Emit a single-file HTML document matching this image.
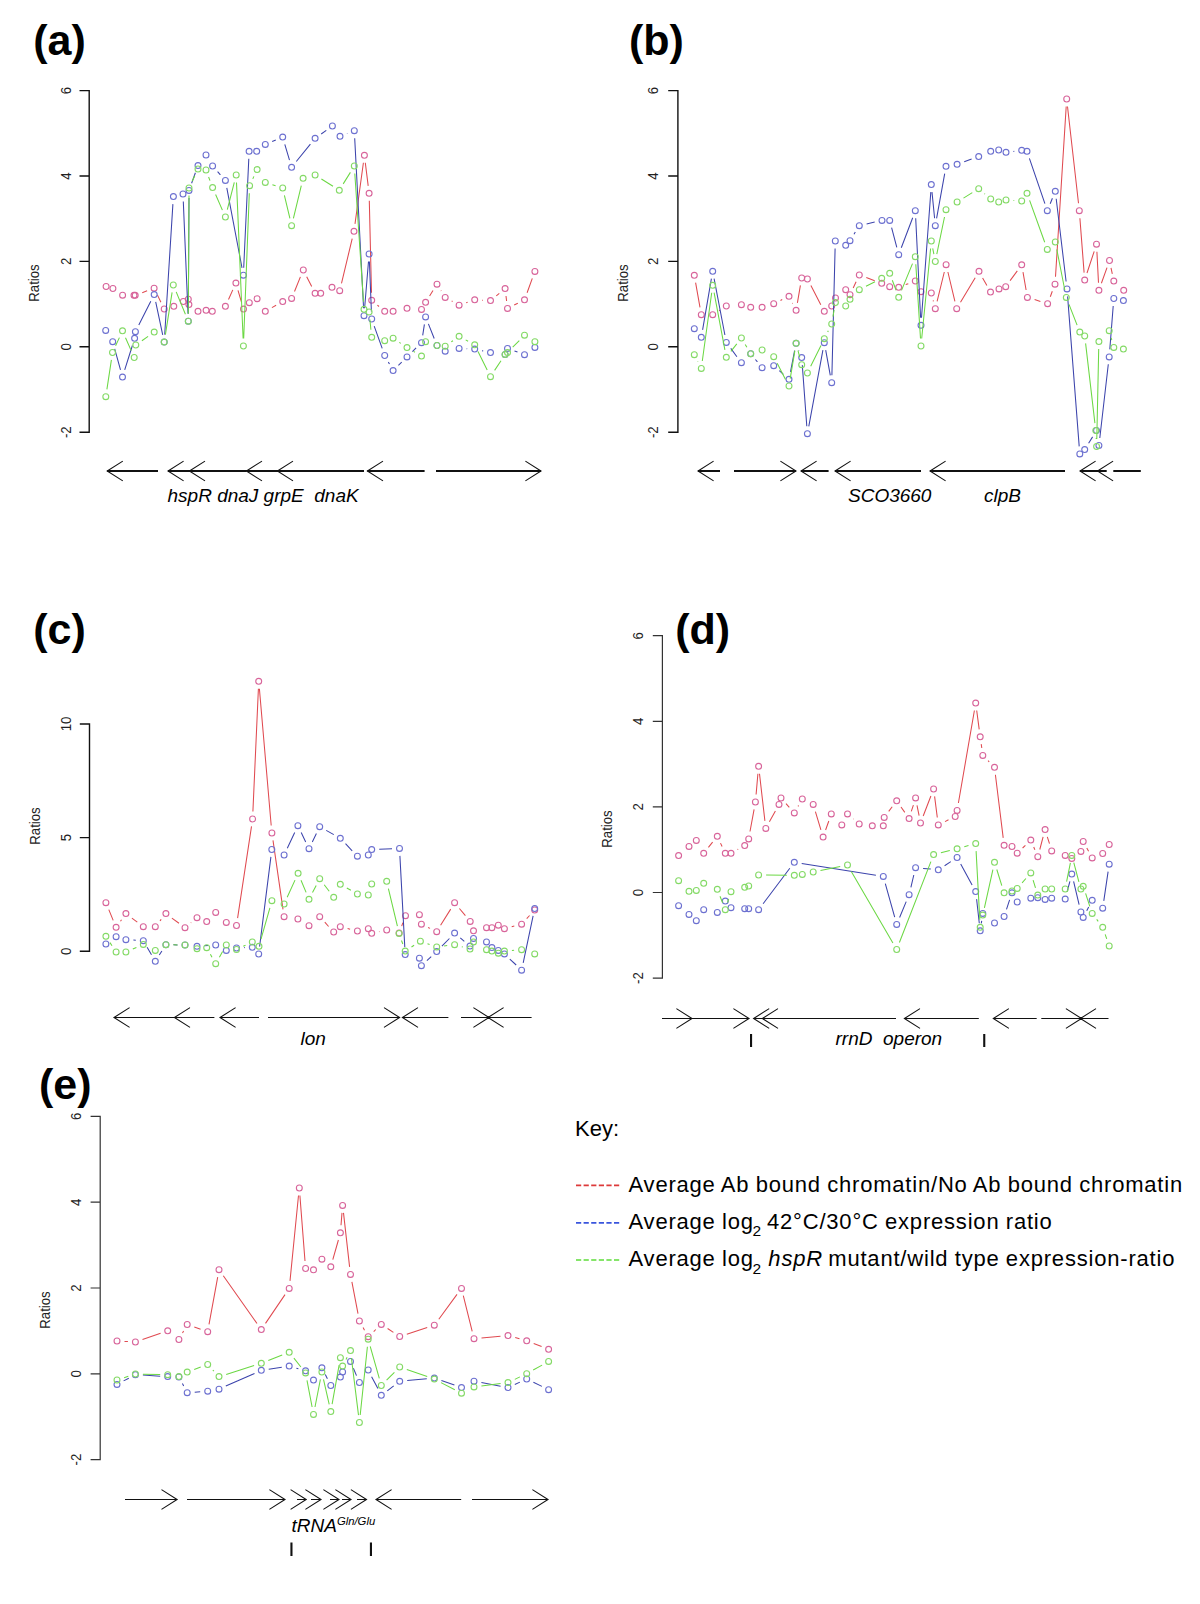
<!DOCTYPE html>
<html><head><meta charset="utf-8"><title>Figure</title>
<style>
html,body{margin:0;padding:0;background:#fff;}
svg{display:block;}
text{font-family:"Liberation Sans",Arial,Helvetica,sans-serif;fill:#111;}
.ttl{font-weight:bold;fill:#000;}
.tl{fill:#222;}
.gl{font-style:italic;fill:#000;}
.key{font-size:22px;fill:#000;letter-spacing:0.8px;word-spacing:-0.55px;}
</style></head>
<body>
<svg width="1200" height="1604" viewBox="0 0 1200 1604">
<rect width="1200" height="1604" fill="#fff"/>
<text x="33.2" y="55.4" class="ttl" style="font-size:43px">(a)</text>
<path d="M89.2 90.59999999999997L89.2 432.20000000000005M80.2 90.59999999999997L89.2 90.59999999999997M80.2 176.0L89.2 176.0M80.2 261.4L89.2 261.4M80.2 346.8L89.2 346.8M80.2 432.20000000000005L89.2 432.20000000000005" stroke="#111" stroke-width="1.4" fill="none" stroke-linecap="square"/>
<text transform="translate(70.6,90.6) scale(1.17,1) rotate(-90)" text-anchor="middle" class="tl" style="font-size:13.2px">6</text>
<text transform="translate(70.6,176.0) scale(1.17,1) rotate(-90)" text-anchor="middle" class="tl" style="font-size:13.2px">4</text>
<text transform="translate(70.6,261.4) scale(1.17,1) rotate(-90)" text-anchor="middle" class="tl" style="font-size:13.2px">2</text>
<text transform="translate(70.6,346.8) scale(1.17,1) rotate(-90)" text-anchor="middle" class="tl" style="font-size:13.2px">0</text>
<text transform="translate(70.6,432.2) scale(1.17,1) rotate(-90)" text-anchor="middle" class="tl" style="font-size:13.2px">-2</text>
<text transform="translate(39.4,283.0) scale(1.06,1) rotate(-90)" text-anchor="middle" class="tl" style="font-size:13.2px">Ratios</text>
<path d="M142.2 292.7L147.1 290.8M157.4 294.9L160.9 302.3M228.5 299.5L232.8 289.9M238.0 290.3L241.4 301.9M271.9 307.6L276.1 305.3M294.5 291.5L300.4 276.9M306.7 276.7L311.7 286.6M341.5 283.4L352.2 238.6M355.0 223.9L363.4 162.7M365.3 162.7L368.2 185.9M369.3 200.8L371.5 292.8M377.4 305.1L379.0 306.5M429.6 296.0L433.0 290.5M441.0 290.6L441.2 291.0M451.7 301.1L452.6 301.5M466.2 302.7L467.6 302.3M482.2 300.2L483.0 300.2M496.3 295.8L499.3 293.4M506.0 296.0L506.6 301.0M514.2 305.0L517.8 303.2M527.1 292.8L532.3 278.4" stroke="#e04a50" stroke-width="1.05" fill="none"/>
<g fill="none" stroke="#d8649a" stroke-width="1.1"><circle cx="106.1" cy="286.5" r="2.95"/><circle cx="112.9" cy="288.5" r="2.95"/><circle cx="122.6" cy="295.2" r="2.95"/><circle cx="134.0" cy="295.3" r="2.95"/><circle cx="135.2" cy="295.3" r="2.95"/><circle cx="154.1" cy="288.2" r="2.95"/><circle cx="164.2" cy="309.0" r="2.95"/><circle cx="173.8" cy="306.3" r="2.95"/><circle cx="183.3" cy="301.5" r="2.95"/><circle cx="188.3" cy="299.2" r="2.95"/><circle cx="188.9" cy="304.6" r="2.95"/><circle cx="198.0" cy="311.3" r="2.95"/><circle cx="206.1" cy="310.3" r="2.95"/><circle cx="212.3" cy="311.3" r="2.95"/><circle cx="225.4" cy="306.3" r="2.95"/><circle cx="235.9" cy="283.1" r="2.95"/><circle cx="243.5" cy="309.1" r="2.95"/><circle cx="249.3" cy="302.7" r="2.95"/><circle cx="257.1" cy="298.7" r="2.95"/><circle cx="265.3" cy="311.3" r="2.95"/><circle cx="282.7" cy="301.6" r="2.95"/><circle cx="291.6" cy="298.4" r="2.95"/><circle cx="303.3" cy="270.0" r="2.95"/><circle cx="315.1" cy="293.3" r="2.95"/><circle cx="320.7" cy="293.3" r="2.95"/><circle cx="332.0" cy="287.3" r="2.95"/><circle cx="339.7" cy="290.7" r="2.95"/><circle cx="354.0" cy="231.3" r="2.95"/><circle cx="364.4" cy="155.3" r="2.95"/><circle cx="369.1" cy="193.3" r="2.95"/><circle cx="371.7" cy="300.3" r="2.95"/><circle cx="384.7" cy="311.3" r="2.95"/><circle cx="393.1" cy="311.3" r="2.95"/><circle cx="407.0" cy="308.3" r="2.95"/><circle cx="421.5" cy="309.4" r="2.95"/><circle cx="425.6" cy="302.3" r="2.95"/><circle cx="437.0" cy="284.2" r="2.95"/><circle cx="445.2" cy="297.4" r="2.95"/><circle cx="459.1" cy="305.2" r="2.95"/><circle cx="474.7" cy="299.8" r="2.95"/><circle cx="490.5" cy="300.6" r="2.95"/><circle cx="505.1" cy="288.6" r="2.95"/><circle cx="507.5" cy="308.4" r="2.95"/><circle cx="524.5" cy="299.8" r="2.95"/><circle cx="534.9" cy="271.4" r="2.95"/></g>
<path d="M114.7 348.9L120.5 369.9M124.7 369.9L132.4 345.5M138.8 325.0L150.8 301.3M155.7 301.9L162.7 334.8M164.7 334.6L172.9 204.1M183.3 201.5L188.0 313.7M188.3 313.7L189.0 197.9M191.6 183.3L195.4 172.7M217.6 171.6L220.4 174.8M226.8 187.8L242.0 267.8M243.7 267.7L248.8 158.8M272.2 141.5L275.8 140.0M284.8 144.3L289.5 160.1M296.3 161.5L310.4 144.1M321.2 134.0L326.3 130.3M347.0 133.6L347.3 133.4M354.7 138.2L363.6 308.2M364.6 308.2L368.5 261.5M369.4 261.5L371.4 311.5M374.2 326.1L382.2 348.4M388.3 362.1L389.5 364.0M398.4 365.3L401.7 362.2M412.4 351.7L416.1 347.9M422.7 335.3L424.4 324.3M428.4 323.9L434.2 338.5M466.6 348.7L467.2 348.8M482.0 350.7L483.2 351.0M514.5 351.0L517.5 352.1" stroke="#3c44ac" stroke-width="1.05" fill="none"/>
<g fill="none" stroke="#6c70d0" stroke-width="1.1"><circle cx="105.7" cy="330.4" r="2.95"/><circle cx="112.7" cy="341.7" r="2.95"/><circle cx="122.5" cy="377.1" r="2.95"/><circle cx="134.6" cy="338.3" r="2.95"/><circle cx="135.4" cy="331.7" r="2.95"/><circle cx="154.2" cy="294.6" r="2.95"/><circle cx="164.2" cy="342.1" r="2.95"/><circle cx="173.4" cy="196.6" r="2.95"/><circle cx="183.0" cy="194.0" r="2.95"/><circle cx="188.3" cy="321.2" r="2.95"/><circle cx="189.0" cy="190.4" r="2.95"/><circle cx="198.0" cy="165.6" r="2.95"/><circle cx="206.0" cy="155.0" r="2.95"/><circle cx="212.6" cy="166.0" r="2.95"/><circle cx="225.4" cy="180.4" r="2.95"/><circle cx="243.4" cy="275.2" r="2.95"/><circle cx="249.1" cy="151.3" r="2.95"/><circle cx="256.7" cy="151.3" r="2.95"/><circle cx="265.3" cy="144.4" r="2.95"/><circle cx="282.7" cy="137.1" r="2.95"/><circle cx="291.6" cy="167.3" r="2.95"/><circle cx="315.1" cy="138.3" r="2.95"/><circle cx="332.4" cy="126.0" r="2.95"/><circle cx="340.0" cy="136.3" r="2.95"/><circle cx="354.3" cy="130.7" r="2.95"/><circle cx="364.0" cy="315.7" r="2.95"/><circle cx="369.1" cy="254.0" r="2.95"/><circle cx="371.7" cy="319.0" r="2.95"/><circle cx="384.7" cy="355.5" r="2.95"/><circle cx="393.1" cy="370.6" r="2.95"/><circle cx="407.0" cy="356.9" r="2.95"/><circle cx="421.5" cy="342.7" r="2.95"/><circle cx="425.6" cy="316.9" r="2.95"/><circle cx="437.0" cy="345.5" r="2.95"/><circle cx="445.2" cy="351.2" r="2.95"/><circle cx="459.1" cy="348.4" r="2.95"/><circle cx="474.7" cy="349.1" r="2.95"/><circle cx="490.5" cy="352.6" r="2.95"/><circle cx="505.1" cy="354.4" r="2.95"/><circle cx="507.5" cy="348.4" r="2.95"/><circle cx="524.5" cy="354.7" r="2.95"/><circle cx="534.9" cy="347.4" r="2.95"/></g>
<path d="M106.9 389.3L111.4 359.9M115.6 345.7L119.4 337.6M125.5 337.7L131.2 350.6M141.9 340.7L148.1 336.4M165.4 334.7L172.1 292.4M176.2 291.9L185.4 314.3M188.3 313.7L189.0 195.5M192.2 181.2L194.8 175.8M208.6 177.0L210.0 180.6M215.6 194.5L222.4 210.1M227.3 209.7L234.3 182.3M236.5 182.5L243.1 338.5M243.7 338.5L249.3 193.2M252.8 178.9L253.9 176.4M272.4 184.7L275.6 185.7M284.4 195.3L289.9 218.4M293.4 218.4L301.3 185.6M321.4 179.0L333.0 186.3M343.2 183.9L350.4 172.4M354.8 173.5L363.5 301.8M369.9 319.5L370.9 329.8M399.3 342.4L400.8 343.4M413.5 351.4L415.0 352.3M451.3 341.8L453.0 340.7M465.7 339.9L468.1 341.2M478.0 351.5L487.2 370.0M494.6 370.4L501.0 360.7M512.7 347.2L519.3 340.6" stroke="#6cd844" stroke-width="1.05" fill="none"/>
<g fill="none" stroke="#84da66" stroke-width="1.1"><circle cx="105.8" cy="396.7" r="2.95"/><circle cx="112.5" cy="352.5" r="2.95"/><circle cx="122.5" cy="330.8" r="2.95"/><circle cx="134.2" cy="357.5" r="2.95"/><circle cx="135.8" cy="345.0" r="2.95"/><circle cx="154.2" cy="332.1" r="2.95"/><circle cx="164.2" cy="342.1" r="2.95"/><circle cx="173.3" cy="285.0" r="2.95"/><circle cx="188.3" cy="321.2" r="2.95"/><circle cx="189.0" cy="188.0" r="2.95"/><circle cx="198.0" cy="169.0" r="2.95"/><circle cx="206.0" cy="170.0" r="2.95"/><circle cx="212.6" cy="187.6" r="2.95"/><circle cx="225.4" cy="217.0" r="2.95"/><circle cx="236.2" cy="175.0" r="2.95"/><circle cx="243.4" cy="346.0" r="2.95"/><circle cx="249.6" cy="185.7" r="2.95"/><circle cx="257.1" cy="169.6" r="2.95"/><circle cx="265.3" cy="182.4" r="2.95"/><circle cx="282.7" cy="188.0" r="2.95"/><circle cx="291.6" cy="225.7" r="2.95"/><circle cx="303.1" cy="178.3" r="2.95"/><circle cx="315.1" cy="175.0" r="2.95"/><circle cx="339.3" cy="190.3" r="2.95"/><circle cx="354.3" cy="166.0" r="2.95"/><circle cx="364.0" cy="309.3" r="2.95"/><circle cx="369.1" cy="312.0" r="2.95"/><circle cx="371.7" cy="337.3" r="2.95"/><circle cx="384.7" cy="340.7" r="2.95"/><circle cx="393.1" cy="338.2" r="2.95"/><circle cx="407.0" cy="347.6" r="2.95"/><circle cx="421.5" cy="356.1" r="2.95"/><circle cx="425.6" cy="341.7" r="2.95"/><circle cx="437.0" cy="345.5" r="2.95"/><circle cx="445.2" cy="346.2" r="2.95"/><circle cx="459.1" cy="336.3" r="2.95"/><circle cx="474.7" cy="344.8" r="2.95"/><circle cx="490.5" cy="376.7" r="2.95"/><circle cx="505.1" cy="354.4" r="2.95"/><circle cx="507.5" cy="352.6" r="2.95"/><circle cx="524.5" cy="335.2" r="2.95"/><circle cx="534.9" cy="341.7" r="2.95"/></g>
<path d="M107.2 471L158 471M168 471L189.4 471M189.4 471L246.4 471M246.4 471L277.4 471M277.4 471L364 471M367.4 471L424.6 471M436 471L541 471" stroke="#111" stroke-width="1.9" fill="none"/>
<path d="M122.8 461.1L107.2 471L122.8 480.9M183.6 461.1L168 471L183.6 480.9M205.0 461.1L189.4 471L205.0 480.9M262.0 461.1L246.4 471L262.0 480.9M293.0 461.1L277.4 471L293.0 480.9M383.0 461.1L367.4 471L383.0 480.9M525.4 461.1L541 471L525.4 480.9" stroke="#111" stroke-width="1.1" fill="none" stroke-linejoin="miter"/>
<text x="167.5" y="502.4" class="gl" style="font-size:19px">hspR dnaJ grpE&#160; dnaK</text>
<text x="629" y="55.4" class="ttl" style="font-size:43px">(b)</text>
<path d="M677.9 90.59999999999997L677.9 432.20000000000005M668.9 90.59999999999997L677.9 90.59999999999997M668.9 176.0L677.9 176.0M668.9 261.4L677.9 261.4M668.9 346.8L677.9 346.8M668.9 432.20000000000005L677.9 432.20000000000005" stroke="#111" stroke-width="1.4" fill="none" stroke-linecap="square"/>
<text transform="translate(658.3,90.6) scale(1.17,1) rotate(-90)" text-anchor="middle" class="tl" style="font-size:13.2px">6</text>
<text transform="translate(658.3,176.0) scale(1.17,1) rotate(-90)" text-anchor="middle" class="tl" style="font-size:13.2px">4</text>
<text transform="translate(658.3,261.4) scale(1.17,1) rotate(-90)" text-anchor="middle" class="tl" style="font-size:13.2px">2</text>
<text transform="translate(658.3,346.8) scale(1.17,1) rotate(-90)" text-anchor="middle" class="tl" style="font-size:13.2px">0</text>
<text transform="translate(658.3,432.2) scale(1.17,1) rotate(-90)" text-anchor="middle" class="tl" style="font-size:13.2px">-2</text>
<text transform="translate(628.2,283.0) scale(1.06,1) rotate(-90)" text-anchor="middle" class="tl" style="font-size:13.2px">Ratios</text>
<path d="M695.6 282.7L700.0 307.3M719.0 310.7L720.0 310.0M780.5 300.4L782.2 299.6M792.4 303.0L792.7 303.6M797.4 302.9L800.4 285.4M810.9 285.6L820.8 304.7M853.2 287.9L856.1 281.8M866.3 277.6L874.7 280.7M905.7 284.6L908.3 283.7M933.2 300.3L933.4 301.4M937.1 301.4L944.3 272.0M947.9 272.0L954.9 301.4M960.5 302.3L975.2 277.7M982.6 277.9L986.9 285.5M1010.1 280.6L1017.3 270.9M1023.0 272.2L1026.1 290.0M1034.6 299.6L1040.4 301.5M1050.3 296.7L1052.3 291.2M1055.5 276.7L1066.2 106.5M1067.5 106.5L1078.5 203.2M1079.9 218.2L1084.1 272.6M1087.0 273.0L1094.2 251.3M1096.9 251.7L1098.5 282.8M1101.4 283.2L1107.0 267.6M1111.0 267.8L1112.3 273.8" stroke="#e04a50" stroke-width="1.05" fill="none"/>
<g fill="none" stroke="#d8649a" stroke-width="1.1"><circle cx="694.3" cy="275.3" r="2.95"/><circle cx="701.3" cy="314.7" r="2.95"/><circle cx="712.7" cy="314.7" r="2.95"/><circle cx="726.3" cy="306.0" r="2.95"/><circle cx="741.4" cy="304.7" r="2.95"/><circle cx="750.7" cy="307.3" r="2.95"/><circle cx="762.1" cy="307.3" r="2.95"/><circle cx="773.7" cy="303.7" r="2.95"/><circle cx="789.0" cy="296.3" r="2.95"/><circle cx="796.1" cy="310.3" r="2.95"/><circle cx="801.7" cy="278.0" r="2.95"/><circle cx="807.4" cy="279.0" r="2.95"/><circle cx="824.3" cy="311.3" r="2.95"/><circle cx="831.7" cy="306.0" r="2.95"/><circle cx="835.5" cy="298.0" r="2.95"/><circle cx="845.7" cy="289.7" r="2.95"/><circle cx="850.0" cy="294.7" r="2.95"/><circle cx="859.3" cy="275.0" r="2.95"/><circle cx="881.7" cy="283.3" r="2.95"/><circle cx="889.7" cy="286.7" r="2.95"/><circle cx="898.7" cy="287.3" r="2.95"/><circle cx="915.3" cy="281.0" r="2.95"/><circle cx="921.0" cy="291.7" r="2.95"/><circle cx="931.3" cy="293.0" r="2.95"/><circle cx="935.3" cy="308.7" r="2.95"/><circle cx="946.1" cy="264.7" r="2.95"/><circle cx="956.7" cy="308.7" r="2.95"/><circle cx="979.0" cy="271.3" r="2.95"/><circle cx="990.5" cy="292.1" r="2.95"/><circle cx="999.0" cy="288.9" r="2.95"/><circle cx="1005.7" cy="286.7" r="2.95"/><circle cx="1021.7" cy="264.8" r="2.95"/><circle cx="1027.4" cy="297.4" r="2.95"/><circle cx="1047.6" cy="303.7" r="2.95"/><circle cx="1055.0" cy="284.2" r="2.95"/><circle cx="1066.7" cy="99.0" r="2.95"/><circle cx="1079.3" cy="210.7" r="2.95"/><circle cx="1084.7" cy="280.1" r="2.95"/><circle cx="1096.5" cy="244.2" r="2.95"/><circle cx="1098.9" cy="290.3" r="2.95"/><circle cx="1109.5" cy="260.5" r="2.95"/><circle cx="1113.8" cy="281.1" r="2.95"/><circle cx="1123.7" cy="290.3" r="2.95"/></g>
<path d="M702.6 329.9L711.4 278.7M714.1 278.7L724.9 335.0M730.8 348.4L736.9 356.7M755.4 359.5L757.4 361.9M779.3 370.7L783.4 374.3M790.5 371.9L794.6 350.7M798.8 350.3L799.0 350.6M802.3 365.1L806.8 426.2M808.8 426.3L822.9 350.1M825.7 350.1L830.3 375.3M831.9 375.2L835.1 248.5M854.0 234.3L855.3 232.1M866.6 224.0L874.7 222.1M891.6 227.7L896.8 247.4M901.3 247.7L912.7 217.7M915.7 218.2L920.6 317.8M921.5 317.8L930.8 192.1M932.0 192.1L934.6 218.2M936.6 218.3L944.7 173.7M964.2 161.8L971.6 159.1M1013.4 151.4L1014.3 151.2M1029.4 158.4L1044.9 203.6M1050.2 203.8L1052.4 198.2M1056.2 198.7L1066.1 281.5M1067.6 296.4L1079.2 446.4M1088.6 443.2L1092.6 436.9M1099.8 438.0L1108.3 364.3M1109.8 349.4L1113.2 306.0" stroke="#3c44ac" stroke-width="1.05" fill="none"/>
<g fill="none" stroke="#6c70d0" stroke-width="1.1"><circle cx="694.3" cy="328.7" r="2.95"/><circle cx="701.3" cy="337.3" r="2.95"/><circle cx="712.7" cy="271.3" r="2.95"/><circle cx="726.3" cy="342.4" r="2.95"/><circle cx="741.4" cy="362.7" r="2.95"/><circle cx="750.7" cy="353.7" r="2.95"/><circle cx="762.1" cy="367.7" r="2.95"/><circle cx="773.7" cy="365.7" r="2.95"/><circle cx="789.0" cy="379.3" r="2.95"/><circle cx="796.1" cy="343.3" r="2.95"/><circle cx="801.7" cy="357.6" r="2.95"/><circle cx="807.4" cy="433.7" r="2.95"/><circle cx="824.3" cy="342.7" r="2.95"/><circle cx="831.7" cy="382.7" r="2.95"/><circle cx="835.3" cy="241.0" r="2.95"/><circle cx="845.7" cy="245.3" r="2.95"/><circle cx="850.0" cy="240.7" r="2.95"/><circle cx="859.3" cy="225.7" r="2.95"/><circle cx="882.0" cy="220.4" r="2.95"/><circle cx="889.7" cy="220.4" r="2.95"/><circle cx="898.7" cy="254.7" r="2.95"/><circle cx="915.3" cy="210.7" r="2.95"/><circle cx="921.0" cy="325.3" r="2.95"/><circle cx="931.3" cy="184.6" r="2.95"/><circle cx="935.3" cy="225.7" r="2.95"/><circle cx="946.0" cy="166.3" r="2.95"/><circle cx="957.1" cy="164.3" r="2.95"/><circle cx="978.7" cy="156.6" r="2.95"/><circle cx="990.7" cy="151.3" r="2.95"/><circle cx="998.7" cy="150.0" r="2.95"/><circle cx="1006.0" cy="152.3" r="2.95"/><circle cx="1021.7" cy="150.3" r="2.95"/><circle cx="1027.0" cy="151.3" r="2.95"/><circle cx="1047.3" cy="210.7" r="2.95"/><circle cx="1055.3" cy="191.3" r="2.95"/><circle cx="1067.0" cy="288.9" r="2.95"/><circle cx="1079.8" cy="453.9" r="2.95"/><circle cx="1084.7" cy="449.6" r="2.95"/><circle cx="1096.5" cy="430.5" r="2.95"/><circle cx="1098.9" cy="445.4" r="2.95"/><circle cx="1109.2" cy="356.9" r="2.95"/><circle cx="1113.8" cy="298.5" r="2.95"/><circle cx="1123.4" cy="300.6" r="2.95"/></g>
<path d="M697.7 361.4L697.9 361.7M702.3 361.0L711.7 292.7M714.1 292.7L724.9 349.9M730.9 351.4L736.8 343.9M745.2 344.5L746.9 347.2M777.2 363.3L785.5 379.4M790.2 378.6L794.9 350.7M798.0 350.6L799.8 357.4M810.7 366.3L821.0 345.4M827.7 332.0L828.3 330.7M833.0 316.6L834.1 309.9M866.0 286.3L875.0 281.7M892.3 280.3L896.1 290.3M901.5 290.4L912.5 263.6M915.8 264.2L920.5 338.5M921.7 338.5L930.6 248.5M932.7 248.4L933.9 254.1M936.8 254.2L944.5 217.0M963.5 198.1L972.3 192.6M984.4 193.6L985.0 194.1M1013.5 200.5L1014.2 200.5M1029.6 200.4L1044.7 242.3M1056.8 249.4L1064.8 290.0M1069.0 304.4L1077.1 325.1M1085.6 343.4L1094.9 423.1M1096.2 438.0L1096.2 439.0M1096.8 439.0L1098.7 349.1M1111.2 337.9L1111.8 340.2" stroke="#6cd844" stroke-width="1.05" fill="none"/>
<g fill="none" stroke="#84da66" stroke-width="1.1"><circle cx="694.3" cy="354.7" r="2.95"/><circle cx="701.3" cy="368.4" r="2.95"/><circle cx="712.7" cy="285.3" r="2.95"/><circle cx="726.3" cy="357.3" r="2.95"/><circle cx="741.4" cy="338.0" r="2.95"/><circle cx="750.7" cy="353.7" r="2.95"/><circle cx="762.1" cy="350.0" r="2.95"/><circle cx="773.7" cy="356.7" r="2.95"/><circle cx="789.0" cy="386.0" r="2.95"/><circle cx="796.1" cy="343.3" r="2.95"/><circle cx="801.7" cy="364.7" r="2.95"/><circle cx="807.4" cy="373.0" r="2.95"/><circle cx="824.3" cy="338.7" r="2.95"/><circle cx="831.7" cy="324.0" r="2.95"/><circle cx="835.4" cy="302.5" r="2.95"/><circle cx="845.7" cy="306.0" r="2.95"/><circle cx="850.0" cy="299.3" r="2.95"/><circle cx="859.3" cy="289.7" r="2.95"/><circle cx="881.7" cy="278.3" r="2.95"/><circle cx="889.7" cy="273.3" r="2.95"/><circle cx="898.7" cy="297.3" r="2.95"/><circle cx="915.3" cy="256.7" r="2.95"/><circle cx="921.0" cy="346.0" r="2.95"/><circle cx="931.3" cy="241.0" r="2.95"/><circle cx="935.3" cy="261.5" r="2.95"/><circle cx="946.0" cy="209.7" r="2.95"/><circle cx="957.1" cy="202.0" r="2.95"/><circle cx="978.7" cy="188.7" r="2.95"/><circle cx="990.7" cy="199.0" r="2.95"/><circle cx="998.7" cy="202.0" r="2.95"/><circle cx="1006.0" cy="200.0" r="2.95"/><circle cx="1021.7" cy="201.0" r="2.95"/><circle cx="1027.0" cy="193.3" r="2.95"/><circle cx="1047.3" cy="249.4" r="2.95"/><circle cx="1055.3" cy="242.0" r="2.95"/><circle cx="1066.3" cy="297.4" r="2.95"/><circle cx="1079.8" cy="332.1" r="2.95"/><circle cx="1084.7" cy="336.0" r="2.95"/><circle cx="1095.8" cy="430.5" r="2.95"/><circle cx="1096.6" cy="446.5" r="2.95"/><circle cx="1098.9" cy="341.6" r="2.95"/><circle cx="1109.2" cy="330.7" r="2.95"/><circle cx="1113.8" cy="347.4" r="2.95"/><circle cx="1123.4" cy="349.1" r="2.95"/></g>
<path d="M698 471L720 471M734 471L796 471M801 471L828.6 471M835 471L921 471M930 471L1065 471M1080 471L1097.5 471M1097.5 471L1106.7 471M1113.3 471L1140.8 471" stroke="#111" stroke-width="1.9" fill="none"/>
<path d="M713.6 461.1L698 471L713.6 480.9M780.4 461.1L796 471L780.4 480.9M816.6 461.1L801 471L816.6 480.9M850.6 461.1L835 471L850.6 480.9M945.6 461.1L930 471L945.6 480.9M1095.6 461.1L1080 471L1095.6 480.9M1113.1 461.1L1097.5 471L1113.1 480.9" stroke="#111" stroke-width="1.1" fill="none" stroke-linejoin="miter"/>
<text x="848" y="502" class="gl" style="font-size:19px">SCO3660</text>
<text x="984" y="502" class="gl" style="font-size:19px">clpB</text>
<text x="33.2" y="644.2" class="ttl" style="font-size:43px">(c)</text>
<path d="M89.5 724.0L89.5 951.2M80.5 724.0L89.5 724.0M80.5 837.6L89.5 837.6M80.5 951.2L89.5 951.2" stroke="#111" stroke-width="1.4" fill="none" stroke-linecap="square"/>
<text transform="translate(71.2,724.0) scale(1.17,1) rotate(-90)" text-anchor="middle" class="tl" style="font-size:13.2px">10</text>
<text transform="translate(71.2,837.6) scale(1.17,1) rotate(-90)" text-anchor="middle" class="tl" style="font-size:13.2px">5</text>
<text transform="translate(71.2,951.2) scale(1.17,1) rotate(-90)" text-anchor="middle" class="tl" style="font-size:13.2px">0</text>
<text transform="translate(40.2,826.0) scale(1.06,1) rotate(-90)" text-anchor="middle" class="tl" style="font-size:13.2px">Ratios</text>
<path d="M108.8 909.6L113.2 920.4M120.5 921.2L121.5 919.7M131.9 918.1L137.3 922.2M160.0 920.9L161.2 919.4M171.9 918.1L179.0 923.2M190.8 922.9L191.2 922.5M237.6 918.1L251.5 826.4M252.9 811.5L258.4 688.8M259.4 688.8L271.2 825.5M273.0 840.4L283.0 909.3M324.8 922.2L328.6 926.5M347.6 928.5L350.1 929.2M379.0 931.7L379.4 931.6M401.7 926.1L402.9 922.7M428.1 927.5L430.0 928.4M440.6 925.3L450.7 909.1M459.4 908.5L465.4 915.6M511.7 926.8L514.3 926.1M526.7 918.7L529.6 915.5" stroke="#e04a50" stroke-width="1.05" fill="none"/>
<g fill="none" stroke="#d8649a" stroke-width="1.1"><circle cx="105.9" cy="902.7" r="2.95"/><circle cx="116.1" cy="927.3" r="2.95"/><circle cx="125.9" cy="913.6" r="2.95"/><circle cx="143.3" cy="926.7" r="2.95"/><circle cx="155.3" cy="926.7" r="2.95"/><circle cx="165.9" cy="913.6" r="2.95"/><circle cx="185.0" cy="927.7" r="2.95"/><circle cx="197.0" cy="917.7" r="2.95"/><circle cx="206.7" cy="921.6" r="2.95"/><circle cx="215.7" cy="912.4" r="2.95"/><circle cx="226.3" cy="922.4" r="2.95"/><circle cx="236.5" cy="925.5" r="2.95"/><circle cx="252.6" cy="819.0" r="2.95"/><circle cx="258.7" cy="681.3" r="2.95"/><circle cx="271.9" cy="833.0" r="2.95"/><circle cx="284.1" cy="916.7" r="2.95"/><circle cx="297.9" cy="919.0" r="2.95"/><circle cx="309.0" cy="925.7" r="2.95"/><circle cx="319.7" cy="916.7" r="2.95"/><circle cx="333.7" cy="932.0" r="2.95"/><circle cx="340.3" cy="926.7" r="2.95"/><circle cx="357.4" cy="931.0" r="2.95"/><circle cx="368.3" cy="928.7" r="2.95"/><circle cx="371.7" cy="933.3" r="2.95"/><circle cx="386.7" cy="930.0" r="2.95"/><circle cx="399.1" cy="933.1" r="2.95"/><circle cx="405.5" cy="915.7" r="2.95"/><circle cx="419.4" cy="914.7" r="2.95"/><circle cx="421.4" cy="924.2" r="2.95"/><circle cx="436.7" cy="931.7" r="2.95"/><circle cx="454.6" cy="902.7" r="2.95"/><circle cx="470.2" cy="921.4" r="2.95"/><circle cx="473.5" cy="930.8" r="2.95"/><circle cx="486.5" cy="927.7" r="2.95"/><circle cx="491.9" cy="927.7" r="2.95"/><circle cx="498.3" cy="925.2" r="2.95"/><circle cx="504.4" cy="928.7" r="2.95"/><circle cx="521.6" cy="924.2" r="2.95"/><circle cx="534.7" cy="910.0" r="2.95"/></g>
<path d="M133.4 940.1L135.8 940.3M147.1 947.2L151.5 954.8M159.3 955.0L161.9 951.0M173.4 944.8L177.5 944.9M204.5 945.8L208.2 945.5M244.0 947.7L244.8 947.6M259.6 946.6L270.9 856.9M287.3 848.2L294.7 832.5M301.2 832.5L305.7 841.9M312.3 842.0L316.4 833.4M326.2 830.4L333.8 834.6M345.5 843.7L352.2 850.8M379.2 849.3L392.0 848.7M399.9 855.9L404.8 947.1M426.9 960.6L431.2 956.6M441.9 946.1L449.4 938.5M460.3 937.9L464.3 941.3M509.8 959.1L516.2 965.0M523.2 962.9L533.1 915.9" stroke="#3c44ac" stroke-width="1.05" fill="none"/>
<g fill="none" stroke="#6c70d0" stroke-width="1.1"><circle cx="105.9" cy="944.0" r="2.95"/><circle cx="116.1" cy="936.7" r="2.95"/><circle cx="125.9" cy="939.7" r="2.95"/><circle cx="143.3" cy="940.7" r="2.95"/><circle cx="155.3" cy="961.3" r="2.95"/><circle cx="165.9" cy="944.7" r="2.95"/><circle cx="185.0" cy="945.0" r="2.95"/><circle cx="197.0" cy="946.3" r="2.95"/><circle cx="215.7" cy="945.0" r="2.95"/><circle cx="226.3" cy="950.4" r="2.95"/><circle cx="236.5" cy="948.0" r="2.95"/><circle cx="252.3" cy="947.3" r="2.95"/><circle cx="258.7" cy="954.0" r="2.95"/><circle cx="271.8" cy="849.5" r="2.95"/><circle cx="284.1" cy="855.0" r="2.95"/><circle cx="297.9" cy="825.7" r="2.95"/><circle cx="309.0" cy="848.7" r="2.95"/><circle cx="319.7" cy="826.7" r="2.95"/><circle cx="340.3" cy="838.3" r="2.95"/><circle cx="357.4" cy="856.2" r="2.95"/><circle cx="368.3" cy="855.0" r="2.95"/><circle cx="371.7" cy="849.6" r="2.95"/><circle cx="399.5" cy="848.4" r="2.95"/><circle cx="405.2" cy="954.6" r="2.95"/><circle cx="419.4" cy="958.2" r="2.95"/><circle cx="421.4" cy="965.7" r="2.95"/><circle cx="436.7" cy="951.5" r="2.95"/><circle cx="454.6" cy="933.1" r="2.95"/><circle cx="470.0" cy="946.1" r="2.95"/><circle cx="473.5" cy="938.4" r="2.95"/><circle cx="486.5" cy="941.9" r="2.95"/><circle cx="491.9" cy="947.6" r="2.95"/><circle cx="498.3" cy="950.4" r="2.95"/><circle cx="504.4" cy="953.9" r="2.95"/><circle cx="521.6" cy="970.2" r="2.95"/><circle cx="534.7" cy="908.6" r="2.95"/></g>
<path d="M110.0 942.6L112.0 945.7M132.8 949.0L136.4 947.4M173.4 944.8L177.5 944.9M210.4 954.2L212.0 957.2M219.4 957.2L222.6 951.5M243.3 946.3L245.5 945.2M261.0 939.1L269.9 907.9M287.2 897.2L295.0 880.1M301.0 880.2L306.1 892.4M312.5 892.6L316.2 885.4M324.2 884.7L329.2 891.3M346.8 888.0L350.9 890.3M388.4 888.6L397.4 926.1M401.5 940.5L402.8 944.0M411.5 947.0L414.1 945.3M427.5 943.7L429.6 944.4M444.1 946.0L447.2 945.6M461.8 946.7L462.8 947.0M511.9 950.5L514.1 950.3" stroke="#6cd844" stroke-width="1.05" fill="none"/>
<g fill="none" stroke="#84da66" stroke-width="1.1"><circle cx="105.9" cy="936.3" r="2.95"/><circle cx="116.1" cy="952.0" r="2.95"/><circle cx="125.9" cy="952.0" r="2.95"/><circle cx="143.3" cy="944.4" r="2.95"/><circle cx="155.3" cy="950.4" r="2.95"/><circle cx="165.9" cy="944.7" r="2.95"/><circle cx="185.0" cy="945.0" r="2.95"/><circle cx="197.0" cy="948.7" r="2.95"/><circle cx="206.7" cy="947.7" r="2.95"/><circle cx="215.7" cy="963.7" r="2.95"/><circle cx="226.3" cy="945.0" r="2.95"/><circle cx="236.5" cy="949.5" r="2.95"/><circle cx="252.3" cy="942.0" r="2.95"/><circle cx="259.0" cy="946.3" r="2.95"/><circle cx="271.9" cy="900.7" r="2.95"/><circle cx="284.1" cy="904.0" r="2.95"/><circle cx="298.1" cy="873.3" r="2.95"/><circle cx="309.0" cy="899.3" r="2.95"/><circle cx="319.7" cy="878.7" r="2.95"/><circle cx="333.7" cy="897.3" r="2.95"/><circle cx="340.3" cy="884.3" r="2.95"/><circle cx="357.4" cy="894.0" r="2.95"/><circle cx="368.3" cy="895.0" r="2.95"/><circle cx="371.7" cy="884.0" r="2.95"/><circle cx="386.7" cy="881.3" r="2.95"/><circle cx="399.1" cy="933.4" r="2.95"/><circle cx="405.2" cy="951.1" r="2.95"/><circle cx="420.4" cy="941.2" r="2.95"/><circle cx="436.7" cy="946.9" r="2.95"/><circle cx="454.6" cy="944.7" r="2.95"/><circle cx="470.0" cy="949.0" r="2.95"/><circle cx="473.5" cy="941.9" r="2.95"/><circle cx="486.5" cy="949.7" r="2.95"/><circle cx="491.9" cy="951.1" r="2.95"/><circle cx="498.3" cy="953.2" r="2.95"/><circle cx="504.4" cy="951.1" r="2.95"/><circle cx="521.6" cy="949.7" r="2.95"/><circle cx="534.7" cy="953.9" r="2.95"/></g>
<path d="M114 1017.5L174.4 1017.5M174.4 1017.5L214.4 1017.5M220 1017.5L259 1017.5M268 1017.5L399.6 1017.5M402.4 1017.5L448.4 1017.5M461 1017.5L489 1017.5M488 1017.5L531.6 1017.5" stroke="#111" stroke-width="1.0" fill="none"/>
<path d="M129.6 1007.6L114 1017.5L129.6 1027.4M190.0 1007.6L174.4 1017.5L190.0 1027.4M235.6 1007.6L220 1017.5L235.6 1027.4M384.0 1007.6L399.6 1017.5L384.0 1027.4M418.0 1007.6L402.4 1017.5L418.0 1027.4M473.4 1007.6L489 1017.5L473.4 1027.4M503.6 1007.6L488 1017.5L503.6 1027.4" stroke="#111" stroke-width="1.1" fill="none" stroke-linejoin="miter"/>
<text x="300.5" y="1044.5" class="gl" style="font-size:19px">lon</text>
<text x="675.2" y="644.4" class="ttl" style="font-size:43px">(d)</text>
<path d="M662.4 635.7L662.4 978.1M653.4 635.7L662.4 635.7M653.4 721.3L662.4 721.3M653.4 806.9L662.4 806.9M653.4 892.5L662.4 892.5M653.4 978.1L662.4 978.1" stroke="#333" stroke-width="1.2" fill="none" stroke-linecap="square"/>
<text transform="translate(642.8,635.7) scale(1.17,1) rotate(-90)" text-anchor="middle" class="tl" style="font-size:13.2px">6</text>
<text transform="translate(642.8,721.3) scale(1.17,1) rotate(-90)" text-anchor="middle" class="tl" style="font-size:13.2px">4</text>
<text transform="translate(642.8,806.9) scale(1.17,1) rotate(-90)" text-anchor="middle" class="tl" style="font-size:13.2px">2</text>
<text transform="translate(642.8,892.5) scale(1.17,1) rotate(-90)" text-anchor="middle" class="tl" style="font-size:13.2px">0</text>
<text transform="translate(642.8,978.1) scale(1.17,1) rotate(-90)" text-anchor="middle" class="tl" style="font-size:13.2px">-2</text>
<text transform="translate(612.3,829.0) scale(1.06,1) rotate(-90)" text-anchor="middle" class="tl" style="font-size:13.2px">Ratios</text>
<path d="M708.4 847.4L712.6 842.2M720.5 843.1L722.1 846.5M737.5 849.6L738.2 849.3M750.0 831.5L754.1 809.4M756.1 794.5L757.9 773.8M759.5 773.8L764.9 820.9M769.4 821.8L775.4 811.0M786.0 803.6L789.3 807.3M798.0 806.4L798.6 805.5M815.4 811.6L820.9 829.9M825.6 830.0L828.8 821.0M853.2 818.8L853.5 819.1M888.7 811.4L892.2 806.8M901.0 807.0L904.8 812.4M911.3 811.4L913.4 805.1M917.0 805.3L919.1 815.6M923.2 816.0L930.9 796.0M934.6 796.4L937.3 817.5M945.0 821.6L948.5 819.8M958.4 803.0L974.4 710.5M976.7 710.5L979.2 729.4M981.2 744.2L981.8 748.0M988.1 760.7L989.2 762.0M995.4 774.7L1003.2 837.9M1022.6 848.0L1025.4 845.3M1033.7 847.0L1034.9 849.8M1039.8 849.5L1043.1 836.8M1047.3 836.8L1049.5 843.7M1086.8 848.1L1088.6 851.3" stroke="#e04a50" stroke-width="1.05" fill="none"/>
<g fill="none" stroke="#d8649a" stroke-width="1.1"><circle cx="678.6" cy="855.6" r="2.95"/><circle cx="689.0" cy="846.4" r="2.95"/><circle cx="696.3" cy="840.4" r="2.95"/><circle cx="703.7" cy="853.3" r="2.95"/><circle cx="717.3" cy="836.3" r="2.95"/><circle cx="725.3" cy="853.3" r="2.95"/><circle cx="731.0" cy="853.3" r="2.95"/><circle cx="744.7" cy="845.6" r="2.95"/><circle cx="748.7" cy="838.9" r="2.95"/><circle cx="755.4" cy="802.0" r="2.95"/><circle cx="758.6" cy="766.3" r="2.95"/><circle cx="765.8" cy="828.4" r="2.95"/><circle cx="779.0" cy="804.4" r="2.95"/><circle cx="781.0" cy="798.0" r="2.95"/><circle cx="794.3" cy="812.9" r="2.95"/><circle cx="802.3" cy="799.0" r="2.95"/><circle cx="813.2" cy="804.4" r="2.95"/><circle cx="823.1" cy="837.1" r="2.95"/><circle cx="831.3" cy="813.9" r="2.95"/><circle cx="841.8" cy="824.9" r="2.95"/><circle cx="847.5" cy="813.9" r="2.95"/><circle cx="859.2" cy="824.0" r="2.95"/><circle cx="872.3" cy="825.8" r="2.95"/><circle cx="883.3" cy="825.8" r="2.95"/><circle cx="884.2" cy="817.4" r="2.95"/><circle cx="896.7" cy="800.8" r="2.95"/><circle cx="909.1" cy="818.6" r="2.95"/><circle cx="915.6" cy="797.9" r="2.95"/><circle cx="920.5" cy="823.0" r="2.95"/><circle cx="933.6" cy="789.0" r="2.95"/><circle cx="938.3" cy="824.9" r="2.95"/><circle cx="955.2" cy="816.5" r="2.95"/><circle cx="957.1" cy="810.4" r="2.95"/><circle cx="975.7" cy="703.1" r="2.95"/><circle cx="980.2" cy="736.8" r="2.95"/><circle cx="982.8" cy="755.4" r="2.95"/><circle cx="994.5" cy="767.3" r="2.95"/><circle cx="1004.1" cy="845.3" r="2.95"/><circle cx="1012.0" cy="846.5" r="2.95"/><circle cx="1017.2" cy="853.2" r="2.95"/><circle cx="1030.8" cy="840.1" r="2.95"/><circle cx="1037.8" cy="856.7" r="2.95"/><circle cx="1045.1" cy="829.6" r="2.95"/><circle cx="1051.7" cy="850.9" r="2.95"/><circle cx="1065.2" cy="855.4" r="2.95"/><circle cx="1071.8" cy="858.4" r="2.95"/><circle cx="1080.9" cy="851.4" r="2.95"/><circle cx="1083.2" cy="841.5" r="2.95"/><circle cx="1092.2" cy="857.9" r="2.95"/><circle cx="1102.7" cy="853.5" r="2.95"/><circle cx="1109.2" cy="844.5" r="2.95"/></g>
<path d="M763.1 903.7L789.8 868.3M801.7 863.5L875.9 875.2M885.3 883.6L894.7 917.2M899.6 917.5L906.2 901.6M910.9 887.4L913.8 875.0M923.1 868.4L930.8 869.1M944.6 865.7L950.8 861.6M960.7 864.1L972.1 885.0M976.6 899.1L979.3 923.3M981.3 923.4L981.7 920.8M1006.5 909.4L1009.6 899.9M1067.1 891.8L1069.9 881.4M1073.6 881.4L1079.1 904.7M1086.7 910.8L1088.7 906.9M1103.8 900.8L1108.1 871.6" stroke="#3c44ac" stroke-width="1.05" fill="none"/>
<g fill="none" stroke="#6c70d0" stroke-width="1.1"><circle cx="678.6" cy="905.7" r="2.95"/><circle cx="689.0" cy="914.4" r="2.95"/><circle cx="696.3" cy="920.7" r="2.95"/><circle cx="703.7" cy="909.7" r="2.95"/><circle cx="717.3" cy="912.4" r="2.95"/><circle cx="725.3" cy="901.1" r="2.95"/><circle cx="731.0" cy="907.7" r="2.95"/><circle cx="744.7" cy="908.7" r="2.95"/><circle cx="748.7" cy="908.7" r="2.95"/><circle cx="758.6" cy="909.7" r="2.95"/><circle cx="794.3" cy="862.3" r="2.95"/><circle cx="883.3" cy="876.4" r="2.95"/><circle cx="896.7" cy="924.4" r="2.95"/><circle cx="909.1" cy="894.7" r="2.95"/><circle cx="915.6" cy="867.7" r="2.95"/><circle cx="938.3" cy="869.8" r="2.95"/><circle cx="957.1" cy="857.5" r="2.95"/><circle cx="975.7" cy="891.6" r="2.95"/><circle cx="980.2" cy="930.8" r="2.95"/><circle cx="982.8" cy="913.4" r="2.95"/><circle cx="994.5" cy="923.0" r="2.95"/><circle cx="1004.1" cy="916.5" r="2.95"/><circle cx="1012.0" cy="892.8" r="2.95"/><circle cx="1017.2" cy="902.0" r="2.95"/><circle cx="1030.8" cy="898.2" r="2.95"/><circle cx="1037.8" cy="897.7" r="2.95"/><circle cx="1045.1" cy="899.4" r="2.95"/><circle cx="1051.7" cy="898.2" r="2.95"/><circle cx="1065.2" cy="899.1" r="2.95"/><circle cx="1071.8" cy="874.1" r="2.95"/><circle cx="1080.9" cy="912.0" r="2.95"/><circle cx="1083.2" cy="917.4" r="2.95"/><circle cx="1092.2" cy="900.3" r="2.95"/><circle cx="1102.7" cy="908.2" r="2.95"/><circle cx="1109.2" cy="864.2" r="2.95"/></g>
<path d="M720.0 896.3L722.6 902.7M727.6 902.5L728.7 898.9M766.1 875.1L786.8 875.2M820.5 870.5L840.2 866.5M851.3 871.5L892.9 943.0M899.4 942.5L930.9 861.6M940.9 852.8L949.8 850.6M964.3 846.8L968.5 845.6M976.1 851.1L979.8 919.8M984.4 907.8L992.9 869.6M996.8 869.5L1001.8 885.6M1022.1 882.8L1025.9 878.5M1033.1 880.1L1035.5 887.9M1066.6 881.6L1070.4 862.8M1073.8 862.6L1078.9 881.8M1085.6 893.4L1089.8 906.3M1096.7 919.4L1098.2 921.3M1105.2 934.4L1106.7 938.9" stroke="#6cd844" stroke-width="1.05" fill="none"/>
<g fill="none" stroke="#84da66" stroke-width="1.1"><circle cx="678.6" cy="880.7" r="2.95"/><circle cx="689.0" cy="891.3" r="2.95"/><circle cx="696.3" cy="890.4" r="2.95"/><circle cx="703.7" cy="883.3" r="2.95"/><circle cx="717.3" cy="889.3" r="2.95"/><circle cx="725.3" cy="909.7" r="2.95"/><circle cx="731.0" cy="891.7" r="2.95"/><circle cx="744.7" cy="887.3" r="2.95"/><circle cx="748.7" cy="886.0" r="2.95"/><circle cx="758.6" cy="875.0" r="2.95"/><circle cx="794.3" cy="875.3" r="2.95"/><circle cx="802.3" cy="874.4" r="2.95"/><circle cx="813.2" cy="872.0" r="2.95"/><circle cx="847.5" cy="865.0" r="2.95"/><circle cx="896.7" cy="949.5" r="2.95"/><circle cx="933.6" cy="854.6" r="2.95"/><circle cx="957.1" cy="848.8" r="2.95"/><circle cx="975.7" cy="843.6" r="2.95"/><circle cx="980.2" cy="927.3" r="2.95"/><circle cx="982.8" cy="915.1" r="2.95"/><circle cx="994.5" cy="862.3" r="2.95"/><circle cx="1004.1" cy="892.8" r="2.95"/><circle cx="1012.0" cy="891.0" r="2.95"/><circle cx="1017.2" cy="888.4" r="2.95"/><circle cx="1030.8" cy="872.9" r="2.95"/><circle cx="1037.8" cy="895.1" r="2.95"/><circle cx="1045.1" cy="889.0" r="2.95"/><circle cx="1051.7" cy="889.0" r="2.95"/><circle cx="1065.2" cy="889.0" r="2.95"/><circle cx="1071.8" cy="855.4" r="2.95"/><circle cx="1080.9" cy="889.0" r="2.95"/><circle cx="1083.2" cy="886.3" r="2.95"/><circle cx="1092.2" cy="913.4" r="2.95"/><circle cx="1102.7" cy="927.3" r="2.95"/><circle cx="1109.2" cy="946.0" r="2.95"/></g>
<path d="M662 1018.5L692 1018.5M692 1018.5L749 1018.5M753.6 1018.5L762.4 1018.5M762.4 1018.5L896 1018.5M904.4 1018.5L978.8 1018.5M993.3 1018.5L1036.7 1018.5M1041.3 1018.5L1081.5 1018.5M1080.4 1018.5L1108.5 1018.5" stroke="#111" stroke-width="1.0" fill="none"/>
<path d="M676.4 1008.6L692 1018.5L676.4 1028.4M733.4 1008.6L749 1018.5L733.4 1028.4M769.2 1008.6L753.6 1018.5L769.2 1028.4M778.0 1008.6L762.4 1018.5L778.0 1028.4M920.0 1008.6L904.4 1018.5L920.0 1028.4M1008.9 1008.6L993.3 1018.5L1008.9 1028.4M1065.9 1008.6L1081.5 1018.5L1065.9 1028.4M1096.0 1008.6L1080.4 1018.5L1096.0 1028.4" stroke="#111" stroke-width="1.1" fill="none" stroke-linejoin="miter"/>
<text x="835.5" y="1045" class="gl" style="font-size:19px">rrnD&#160; operon</text>
<rect x="750.0" y="1034" width="2.1" height="13" fill="#111"/>
<rect x="983.2" y="1034" width="2.1" height="13" fill="#111"/>
<text x="39" y="1098.6" class="ttl" style="font-size:43px">(e)</text>
<path d="M100.2 1116.4L100.2 1459.6M91.2 1116.4L100.2 1116.4M91.2 1202.2L100.2 1202.2M91.2 1288.0L100.2 1288.0M91.2 1373.8L100.2 1373.8M91.2 1459.6L100.2 1459.6" stroke="#333" stroke-width="1.2" fill="none" stroke-linecap="square"/>
<text transform="translate(81.0,1116.4) scale(1.17,1) rotate(-90)" text-anchor="middle" class="tl" style="font-size:13.2px">6</text>
<text transform="translate(81.0,1202.2) scale(1.17,1) rotate(-90)" text-anchor="middle" class="tl" style="font-size:13.2px">4</text>
<text transform="translate(81.0,1288.0) scale(1.17,1) rotate(-90)" text-anchor="middle" class="tl" style="font-size:13.2px">2</text>
<text transform="translate(81.0,1373.8) scale(1.17,1) rotate(-90)" text-anchor="middle" class="tl" style="font-size:13.2px">0</text>
<text transform="translate(81.0,1459.6) scale(1.17,1) rotate(-90)" text-anchor="middle" class="tl" style="font-size:13.2px">-2</text>
<text transform="translate(50.2,1310.0) scale(1.06,1) rotate(-90)" text-anchor="middle" class="tl" style="font-size:13.2px">Ratios</text>
<path d="M124.5 1341.4L127.9 1341.6M142.5 1339.5L160.6 1333.3M182.5 1332.9L183.6 1331.1M194.3 1327.0L200.6 1329.2M209.0 1324.3L217.7 1277.1M223.3 1275.8L257.0 1323.5M265.5 1323.4L285.0 1294.6M290.0 1280.9L298.5 1195.5M299.9 1195.5L305.0 1261.0M332.8 1259.6L338.4 1240.0M341.0 1225.3L342.0 1212.9M343.5 1212.9L349.6 1266.9M351.9 1281.8L358.0 1313.6M363.1 1327.5L364.5 1330.2M373.7 1331.6L375.8 1329.5M387.6 1328.5L393.4 1332.4M406.8 1334.2L427.2 1327.5M438.8 1319.2L457.0 1294.4M463.3 1295.7L472.2 1331.4M481.5 1338.0L500.5 1336.3M515.2 1337.6L519.5 1338.8M533.7 1343.5L541.6 1346.6" stroke="#e04a50" stroke-width="1.05" fill="none"/>
<g fill="none" stroke="#d8649a" stroke-width="1.1"><circle cx="117.0" cy="1341.0" r="2.95"/><circle cx="135.4" cy="1342.0" r="2.95"/><circle cx="167.7" cy="1330.8" r="2.95"/><circle cx="178.9" cy="1339.5" r="2.95"/><circle cx="187.2" cy="1324.5" r="2.95"/><circle cx="207.7" cy="1331.7" r="2.95"/><circle cx="219.0" cy="1269.7" r="2.95"/><circle cx="261.3" cy="1329.6" r="2.95"/><circle cx="289.2" cy="1288.4" r="2.95"/><circle cx="299.3" cy="1188.0" r="2.95"/><circle cx="305.6" cy="1268.5" r="2.95"/><circle cx="313.5" cy="1269.8" r="2.95"/><circle cx="321.9" cy="1259.2" r="2.95"/><circle cx="330.8" cy="1266.8" r="2.95"/><circle cx="340.4" cy="1232.8" r="2.95"/><circle cx="342.6" cy="1205.4" r="2.95"/><circle cx="350.5" cy="1274.4" r="2.95"/><circle cx="359.4" cy="1321.0" r="2.95"/><circle cx="368.2" cy="1336.7" r="2.95"/><circle cx="381.3" cy="1324.4" r="2.95"/><circle cx="399.7" cy="1336.5" r="2.95"/><circle cx="434.3" cy="1325.2" r="2.95"/><circle cx="461.5" cy="1288.4" r="2.95"/><circle cx="474.0" cy="1338.7" r="2.95"/><circle cx="508.0" cy="1335.6" r="2.95"/><circle cx="526.7" cy="1340.8" r="2.95"/><circle cx="548.6" cy="1349.3" r="2.95"/></g>
<path d="M123.6 1380.9L128.8 1378.2M142.9 1375.1L160.2 1376.2M182.4 1383.6L183.7 1386.1M194.7 1392.2L200.2 1391.7M225.8 1386.1L254.5 1373.4M268.7 1369.2L281.8 1367.2M296.4 1368.2L298.4 1368.7M325.3 1374.5L327.4 1378.8M353.4 1368.3L356.5 1375.6M371.6 1376.7L377.9 1388.6M387.3 1390.8L393.7 1385.8M407.2 1380.6L426.8 1378.8M441.4 1380.6L454.4 1385.1M481.4 1382.6L500.6 1386.2M514.8 1384.5L519.9 1382.1M533.4 1382.3L541.9 1386.4" stroke="#3c44ac" stroke-width="1.05" fill="none"/>
<g fill="none" stroke="#6c70d0" stroke-width="1.1"><circle cx="117.0" cy="1384.4" r="2.95"/><circle cx="135.4" cy="1374.7" r="2.95"/><circle cx="167.7" cy="1376.6" r="2.95"/><circle cx="178.9" cy="1377.0" r="2.95"/><circle cx="187.2" cy="1392.7" r="2.95"/><circle cx="207.7" cy="1391.2" r="2.95"/><circle cx="219.0" cy="1389.2" r="2.95"/><circle cx="261.3" cy="1370.3" r="2.95"/><circle cx="289.2" cy="1366.1" r="2.95"/><circle cx="305.6" cy="1370.8" r="2.95"/><circle cx="313.5" cy="1380.1" r="2.95"/><circle cx="321.9" cy="1367.8" r="2.95"/><circle cx="330.8" cy="1385.5" r="2.95"/><circle cx="340.4" cy="1377.1" r="2.95"/><circle cx="342.6" cy="1372.0" r="2.95"/><circle cx="350.5" cy="1361.4" r="2.95"/><circle cx="359.4" cy="1382.5" r="2.95"/><circle cx="368.2" cy="1370.0" r="2.95"/><circle cx="381.3" cy="1395.3" r="2.95"/><circle cx="399.7" cy="1381.3" r="2.95"/><circle cx="434.3" cy="1378.1" r="2.95"/><circle cx="461.5" cy="1387.6" r="2.95"/><circle cx="474.0" cy="1381.2" r="2.95"/><circle cx="508.0" cy="1387.6" r="2.95"/><circle cx="526.7" cy="1379.0" r="2.95"/><circle cx="548.6" cy="1389.7" r="2.95"/></g>
<path d="M124.1 1377.7L128.3 1376.3M142.9 1374.2L160.2 1374.5M194.2 1369.5L200.7 1367.1M212.8 1370.0L213.9 1371.1M226.2 1374.4L254.1 1365.5M268.3 1360.5L282.2 1355.1M293.9 1358.2L300.9 1367.0M307.0 1380.3L312.1 1407.0M315.0 1407.0L320.4 1379.4M323.5 1379.3L329.2 1404.3M332.1 1404.2L339.1 1365.1M346.0 1359.4L347.1 1357.3M351.4 1358.0L358.5 1415.1M360.2 1415.0L367.4 1346.7M370.2 1346.4L379.3 1378.3M386.6 1380.2L394.4 1372.3M406.8 1369.5L427.2 1376.6M441.0 1382.6L454.8 1389.7M481.4 1386.0L500.6 1383.5M514.8 1379.4L519.9 1376.9M533.2 1370.0L542.1 1365.1" stroke="#6cd844" stroke-width="1.05" fill="none"/>
<g fill="none" stroke="#84da66" stroke-width="1.1"><circle cx="117.0" cy="1380.0" r="2.95"/><circle cx="135.4" cy="1374.0" r="2.95"/><circle cx="167.7" cy="1374.7" r="2.95"/><circle cx="178.9" cy="1376.6" r="2.95"/><circle cx="187.2" cy="1372.1" r="2.95"/><circle cx="207.7" cy="1364.5" r="2.95"/><circle cx="219.0" cy="1376.6" r="2.95"/><circle cx="261.3" cy="1363.3" r="2.95"/><circle cx="289.2" cy="1352.3" r="2.95"/><circle cx="305.6" cy="1372.9" r="2.95"/><circle cx="313.5" cy="1414.4" r="2.95"/><circle cx="321.9" cy="1372.0" r="2.95"/><circle cx="330.8" cy="1411.6" r="2.95"/><circle cx="340.4" cy="1357.7" r="2.95"/><circle cx="342.6" cy="1366.1" r="2.95"/><circle cx="350.5" cy="1350.6" r="2.95"/><circle cx="359.4" cy="1422.5" r="2.95"/><circle cx="368.2" cy="1339.2" r="2.95"/><circle cx="381.3" cy="1385.5" r="2.95"/><circle cx="399.7" cy="1367.0" r="2.95"/><circle cx="434.3" cy="1379.1" r="2.95"/><circle cx="461.5" cy="1393.2" r="2.95"/><circle cx="474.0" cy="1386.9" r="2.95"/><circle cx="508.0" cy="1382.6" r="2.95"/><circle cx="526.7" cy="1373.7" r="2.95"/><circle cx="548.6" cy="1361.4" r="2.95"/></g>
<path d="M125 1499.5L177.1 1499.5M187 1499.5L285 1499.5M297 1499.5L306.2 1499.5M311 1499.5L321 1499.5M330 1499.5L339 1499.5M342 1499.5L351 1499.5M357 1499.5L366.5 1499.5M376 1499.5L461.2 1499.5M472 1499.5L548 1499.5" stroke="#111" stroke-width="1.0" fill="none"/>
<path d="M161.5 1489.6L177.1 1499.5L161.5 1509.4M269.4 1489.6L285 1499.5L269.4 1509.4M290.59999999999997 1489.6L306.2 1499.5L290.59999999999997 1509.4M305.4 1489.6L321 1499.5L305.4 1509.4M323.4 1489.6L339 1499.5L323.4 1509.4M335.4 1489.6L351 1499.5L335.4 1509.4M350.9 1489.6L366.5 1499.5L350.9 1509.4M391.6 1489.6L376 1499.5L391.6 1509.4M532.4 1489.6L548 1499.5L532.4 1509.4" stroke="#111" stroke-width="1.1" fill="none" stroke-linejoin="miter"/>
<text x="291.5" y="1531.5" class="gl" style="font-size:19px">tRNA<tspan dy="-6.5" style="font-size:11.3px">Gln/Glu</tspan></text>
<rect x="290.4" y="1542.5" width="2.1" height="13.5" fill="#111"/>
<rect x="369.9" y="1542.5" width="2.1" height="13.5" fill="#111"/>
<text x="575" y="1135.5" class="key" style="letter-spacing:0">Key:</text>
<path d="M576 1185.4L621 1185.4" stroke="#dd3a3a" stroke-width="1.7" stroke-dasharray="5.2 2.4" fill="none"/>
<path d="M576 1222.9L621 1222.9" stroke="#3a55dd" stroke-width="1.7" stroke-dasharray="5.2 2.4" fill="none"/>
<path d="M576 1260L621 1260" stroke="#5edd3a" stroke-width="1.7" stroke-dasharray="5.2 2.4" fill="none"/>
<text x="628.5" y="1191.5" class="key">Average Ab bound chromatin/No Ab bound chromatin</text>
<text x="628.5" y="1228.7" class="key">Average log<tspan dy="7.6" dx="-1.2" style="font-size:15.5px">2</tspan><tspan dy="-7.6" dx="-1.3"> 42°C/30°C expression ratio</tspan></text>
<text x="628.5" y="1266" class="key">Average log<tspan dy="7.6" dx="-1.2" style="font-size:15.5px">2</tspan><tspan dy="-7.6"> </tspan><tspan font-style="italic">hspR</tspan><tspan dx="-1"> mutant/wild type expression-ratio</tspan></text>
</svg>
</body></html>
